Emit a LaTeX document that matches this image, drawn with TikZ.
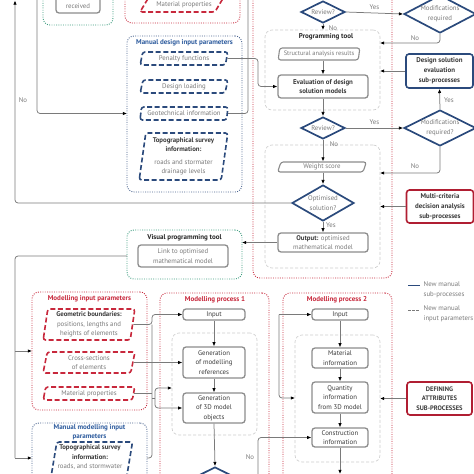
\documentclass[tikz,border=0pt]{standalone}
\usepackage{fontspec}
\setmainfont{PT Sans}
\usetikzlibrary{shapes.geometric,arrows.meta}
\definecolor{redc}{HTML}{C8283C}
\definecolor{redd}{HTML}{B01E32}
\definecolor{bluec}{HTML}{2B4A7C}
\definecolor{bluet}{HTML}{2E5C9E}
\definecolor{greenc}{HTML}{3C9C7E}
\definecolor{gbord}{HTML}{8C8C8C}
\definecolor{gtxt}{HTML}{7A7A7A}
\definecolor{dtxt}{HTML}{3A3A3A}
\definecolor{gline}{HTML}{7A7A7A}
\begin{document}
\begin{tikzpicture}[x=1pt,y=-1pt,
  every node/.style={font=\fontsize{6.8}{9.5}\selectfont},
  conn/.style={draw=gline, line width=0.75pt, rounded corners=3pt},
  arr/.style={conn, -{Latex[length=4.2pt,width=3.4pt,color=black]}},
  cont/.style={rectangle, inner sep=0pt, outer sep=0pt, rounded corners=7pt},
  reddot/.style={cont, draw=redc, line width=0.9pt, dash pattern=on 0.9pt off 1.4pt},
  bluedot/.style={cont, draw=bluec!85, line width=0.9pt, dash pattern=on 0.9pt off 1.4pt},
  greendot/.style={cont, draw=greenc, line width=0.9pt, dash pattern=on 0.9pt off 1.4pt},
  greydash/.style={cont, draw=black!20, line width=0.6pt, dash pattern=on 3pt off 2pt},
  para/.style={trapezium, trapezium left angle=78, trapezium right angle=102, trapezium stretches=true, rounded corners=2.5pt, inner sep=0.5pt, align=center, text=gtxt, fill=white},
  tallpara/.style={trapezium left angle=82, trapezium right angle=98},
  redpara/.style={para, draw=redc, line width=1.6pt, dash pattern=on 5pt off 2.6pt},
  bluepara/.style={para, draw=bluec, line width=1.6pt, dash pattern=on 5pt off 2.6pt},
  greypara/.style={para, draw=gbord, line width=1.1pt},
  gbox/.style={rectangle, rounded corners=3pt, draw=gbord, line width=1.3pt, align=center, inner sep=0.5pt, text=dtxt, fill=white},
  dia/.style={diamond, draw=bluec, line width=1.7pt, inner sep=0pt, fill=white},
  dtext/.style={text=gtxt, align=center, inner sep=0pt},
  subbox/.style={rectangle, rounded corners=3pt, line width=1.6pt, align=center, inner sep=1pt, font=\fontsize{6.9}{9.8}\selectfont\bfseries, text=dtxt, fill=white},
  lbl/.style={text=gtxt, inner sep=0.5pt},
  ttl/.style={font=\fontsize{7}{8.8}\selectfont\bfseries, inner sep=0.5pt, align=center},
]
\useasboundingbox (0,0) rectangle (474,474);
\clip (0,0) rectangle (474,474);
\fill[white] (0,0) rectangle (474,474);

% ---------- containers ----------
\node[greendot, minimum width=70, minimum height=45] (topgreen) at (78,2.5) {};
\node[reddot, minimum width=115, minimum height=43] (topred) at (182.5,1.5) {};
\node[reddot, minimum width=139, minimum height=298] (bigred) at (322.5,129) {};
\node[greydash, minimum width=115, minimum height=80] (ptool) at (322.5,70) {};
\node[greydash, minimum width=115, minimum height=123] (wtool) at (322.5,206.5) {};
\node[bluedot, minimum width=115, minimum height=156] (mdin) at (184.5,114) {};
\node[greendot, minimum width=115, minimum height=49] (vpt) at (184.5,254.5) {};
\node[reddot, minimum width=115, minimum height=118] (mip) at (89.5,351) {};
\node[bluedot, minimum width=115, minimum height=77] (mmip) at (89.5,461.5) {};
\node[reddot, minimum width=109, minimum height=207] (mp1) at (214.5,396.5) {};
\node[reddot, minimum width=109, minimum height=207] (mp2) at (337.5,396.5) {};
\node[greydash, minimum width=85, minimum height=102] (mp1in) at (214.5,384) {};
\node[greydash, minimum width=85, minimum height=127] (mp2in) at (337.5,398.5) {};

% ---------- titles ----------
\node[ttl, text=black!85] (pttl) at (326,37) {Programming tool};
\node[ttl, text=bluet] (mdttl) at (184.5,43) {Manual design input parameters};
\node[ttl, text=black!85] (vpttl) at (184.5,237.5) {Visual programming tool};
\node[ttl, text=redc] (mipttl) at (89.5,299) {Modelling input parameters};
\node[ttl, text=bluet] (mmttl) at (89.5,432.5) {Manual modelling input\\parameters};
\node[ttl, text=redc] (mp1ttl) at (215,300) {Modelling process 1};
\node[ttl, text=redc] (mp2ttl) at (337,300) {Modelling process 2};

% ---------- top cut-off items ----------
\node[gbox, minimum width=44, minimum height=30] (recv) at (78,-2) {};
\node[lbl] (recvt) at (78,6) {received};
\node[redpara, minimum width=88, minimum height=22] (mprop) at (184,1) {};
\node[lbl] (mpropt) at (184,4.5) {Material properties};

% ---------- manual design input ----------
\node[bluepara, minimum width=88, minimum height=13] (pen) at (184,58.5) {Penalty functions};
\node[bluepara, minimum width=88, minimum height=13] (load) at (184,86.5) {Design loading};
\node[bluepara, minimum width=88, minimum height=13] (geo) at (184,113.5) {Geotechnical information};
\node[bluepara, tallpara, minimum width=89, minimum height=47] (topo) at (183.5,156.5) {\textbf{\textcolor{dtxt}{Topographical survey}}\\\textbf{\textcolor{dtxt}{information:}}\\[3pt]roads and stormater\\drainage levels};

% ---------- programming tool ----------
\node[dia, minimum width=44, minimum height=22, label={[dtext]center:Review?}] (rev1) at (323,12) {};
\node[dia, minimum width=72, minimum height=38, label={[dtext]center:Modifications\\required}] (mod1) at (440,14) {};
\node[greypara, minimum width=82, minimum height=12, font=\fontsize{6.4}{9.5}\selectfont] (struct) at (319,54) {Structural analysis results};
\node[gbox, minimum width=90, minimum height=23, font=\fontsize{6.9}{9.5}\selectfont\bfseries] (eval) at (323,86.5) {Evaluation of design\\solution models};
\node[subbox, draw=bluec, minimum width=67, minimum height=34] (dse) at (439.5,71) {Design solution\\evaluation\\sub-processes};
\node[dia, minimum width=44, minimum height=22, label={[dtext]center:Review?}] (rev2) at (323,128) {};
\node[dia, minimum width=72, minimum height=36, label={[dtext]center:Modifications\\required?}] (mod2) at (440,128) {};
\node[greypara, minimum width=89, minimum height=10] (weight) at (322,167) {Weight score};
\node[dia, minimum width=62, minimum height=36, label={[dtext]center:Optimised\\solution?}] (opt) at (323,203) {};
\node[subbox, draw=redd, minimum width=67, minimum height=33] (mcda) at (440,206.5) {Multi-criteria\\decision analysis\\sub-processes};
\node[gbox, minimum width=90, minimum height=19, text=gtxt] (output) at (323,242.5) {\textbf{\textcolor{dtxt}{Output:}} optimised\\mathematical model};
\node[gbox, minimum width=90, minimum height=22, text=gtxt] (link) at (183,256) {Link to optimised\\mathematical model};

% ---------- modelling input ----------
\node[redpara, tallpara, minimum width=92, minimum height=31] (geob) at (89,324.5) {\textbf{\textcolor{dtxt}{Geometric boundaries:}}\\positions, lengths and\\heights of elements};
\node[redpara, tallpara, minimum width=92, minimum height=21] (cross) at (89,362.5) {Cross-sections\\of elements};
\node[redpara, minimum width=92, minimum height=13] (matp) at (89,393.5) {Material properties};
\node[bluepara, tallpara, minimum width=85, minimum height=56] (topo2) at (90,470) {};
\node[lbl, anchor=north, align=center] (topo2t) at (90,444) {\textbf{\textcolor{dtxt}{Topographical survey}}\\\textbf{\textcolor{dtxt}{information:}}\\roads, and stormwater};

% ---------- modelling processes ----------
\node[gbox, minimum width=62, minimum height=11] (input1) at (214,314.5) {Input};
\node[gbox, minimum width=62, minimum height=31] (genref) at (214,362.5) {Generation\\of modelling\\references};
\node[gbox, minimum width=62, minimum height=30] (gen3d) at (214,408) {Generation\\of 3D model\\objects};
\node[dia, minimum width=80, minimum height=40] (bdia) at (215,487) {};
\node[gbox, minimum width=56, minimum height=11] (input2) at (340,314.5) {Input};
\node[gbox, minimum width=56, minimum height=20] (matinfo) at (340,358) {Material\\information};
\node[gbox, minimum width=56, minimum height=31] (quant) at (340,397.5) {Quantity\\information\\from 3D model};
\node[gbox, minimum width=56, minimum height=19] (constr) at (340,437.5) {Construction\\information};
\node[subbox, draw=redd, minimum width=65, minimum height=33, font=\fontsize{6.5}{9.5}\selectfont\bfseries] (defa) at (439.5,398.5) {DEFINING\\ATTRIBUTES\\SUB-PROCESSES};

% ---------- helper coordinates ----------
\coordinate (y43) at (0,43);
\coordinate (y173) at (0,173);
\coordinate (y351) at (0,351);
\coordinate (y388) at (0,388);
\coordinate (y398) at (0,398);
\coordinate (y458) at (0,458);
\coordinate (ybot) at (0,474);
\coordinate (x152) at (152,0);
\coordinate (x258) at (258,0);
\coordinate (outL) at (15,0.5);
\coordinate (inM) at (37,-2);
\coordinate (top248) at (248,-2);
\coordinate (cL1) at (15,256);
\coordinate (br) at (155,398);
\coordinate (s279) at (279,314.5);
\coordinate (nob) at (258,480);

% ---------- connectors ----------
\draw[arr] (rev1.east) -- (mod1.west) node[lbl, midway, above=2.5pt] (yes1) {Yes};
\draw[arr] (mod1.south) |- (ptool.east |- y43);
\node[lbl] (no1) at (415,38) {No};
\draw[arr] (rev1.south) -- (rev1.south |- ptool.north);
\node[lbl] (no0) at (333,28.5) {No};
\draw[arr] (struct.south -| rev1) -- (eval.north -| rev1);
\draw[arr] (eval.south -| rev2) -- (rev2.north);
\draw[arr] (rev2.east) -- (mod2.west) node[lbl, midway, above=2.5pt] (yes2) {Yes};
\draw[arr] (rev2.south) -- (rev2.south |- weight.north);
\node[lbl] (no2) at (334,144) {No};
\draw[arr] (weight.south -| opt) -- (opt.north);
\draw[arr] (opt.south) -- (output.north);
\node[lbl] (yes3) at (331,225) {Yes};
\draw[arr] (output.west) -- (vpt.east |- output.west);
\draw[arr] (opt.west) -| (outL);
\node[lbl] (no3) at (23,100) {No};
\draw[arr] (inM) |- (mdin.west |- geo.west);
\draw[arr] (mod2.north) -- (dse.south);
\node[lbl] (yes4) at (449,100) {Yes};
\draw[arr] (dse.west) -- (ptool.east |- dse.west);
\draw[arr] (mod2.south) |- (wtool.east |- y173);
\node[lbl] (no4) at (415,166) {No};
\draw[arr] (mcda.west) -- (wtool.east |- mcda.west);
\draw[arr] (pen.east) -- (pen.east -| x258) |- (eval.west);
\draw[conn] (geo.east) -| (top248);

% left feed to modelling inputs
\draw[conn] (vpt.west |- cL1) -- (cL1) -- (cL1 |- y458);
\draw[arr] (cL1 |- y351) -- (mip.west |- y351);
\draw[arr] (cL1 |- y458) -- (mmip.west |- y458);

% modelling inputs to process 1
\draw[arr] (geob.east) -- (geob.east -| x152) |- (input1.west);
\draw[conn] (geob.east -| x152) -- (x152 |- y458) -- (mmip.east |- y458);
\draw[conn] (matp.east) -- (matp.east -| x152);
\draw[arr] (cross.east) -- (genref.west);
\draw[conn] (x152 |- br) -- (br);
\draw[arr] (br) |- (mp1in.west |- y388);
\draw[arr] (br) |- (gen3d.west);

% process 1
\draw[arr] (input1) -- (genref);
\draw[arr] (genref) -- (gen3d);
\draw[arr] (gen3d.south) -- (bdia.north);
\node[lbl] (no5) at (250,457) {No};
\draw[arr] (nob) |- (constr.west);

% process 2
\draw[arr] (s279) -- (input2.west);
\draw[arr] (s279) |- (mp2in.west |- y398);
\draw[arr] (input2) -- (matinfo);
\draw[arr] (matinfo) -- (quant);
\draw[arr] (quant) -- (constr);
\draw[arr] (constr.south) -- (constr.south |- ybot);
\draw[arr] (defa.west) -- (mp2in.east |- defa.west);

% ---------- legend ----------
\coordinate (lg1a) at (408,285.5);
\coordinate (lg1b) at (420,285.5);
\coordinate (lg2a) at (408,310);
\coordinate (lg2b) at (420,310);
\draw[draw=bluec, line width=1.8pt] (lg1a) -- (lg1b);
\draw[draw=gtxt, line width=1pt, dash pattern=on 2.5pt off 1.5pt] (lg2a) -- (lg2b);
\node[lbl, anchor=west, align=left] (lgt1) at (423,290) {New manual\\sub-processes};
\node[lbl, anchor=west, align=left] (lgt2) at (423,314) {New manual\\input parameters};
\end{tikzpicture}
\end{document}
